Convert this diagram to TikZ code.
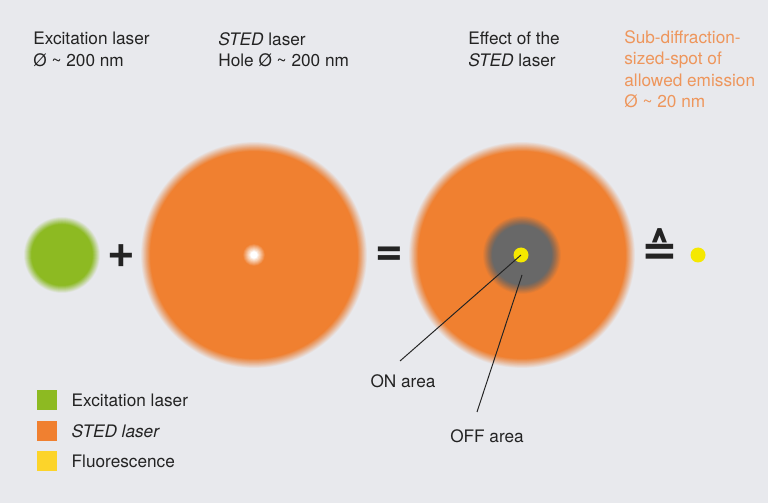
\documentclass[tikz,border=0pt]{standalone}
\usepackage{fontspec}
\setmainfont{TeX Gyre Heros}
\newfontfamily\symfont{DejaVu Sans}
\usetikzlibrary{positioning}

\definecolor{bggray}{RGB}{232,233,237}
\definecolor{excgreen}{RGB}{141,186,34}
\definecolor{stedorange}{RGB}{240,128,48}
\definecolor{offgray}{RGB}{104,104,104}
\definecolor{fluoyellow}{RGB}{245,232,0}
\definecolor{legyellow}{RGB}{252,212,42}
\definecolor{notetext}{RGB}{35,35,35}
\definecolor{noteorange}{RGB}{238,150,92}

% soft edged disc: centre, radius, half blur width, colour
\newcommand{\softdisc}[4]{%
  \foreach \k in {1,...,16}{%
    \pgfmathsetmacro\op{1/(17-\k)}%
    \pgfmathsetmacro\rr{#2+#3-2*#3*(\k-1)/16}%
    \fill[#4, fill opacity=\op] (#1) circle (\rr);
  }%
}

\begin{document}
\begin{tikzpicture}[x=0.02cm, y=-0.02cm,
    every node/.style={text=notetext, font=\fontsize{9.8}{12.2}\selectfont},
    heading/.style={anchor=north west, inner sep=0pt, align=left},
    sign/.style={inner sep=0pt, font=\fontsize{27}{27}\selectfont\bfseries},
    spot/.style={circle, fill=fluoyellow, minimum size=0.3cm, inner sep=0pt},
    legbox/.style={minimum size=0.4cm, inner sep=0pt},
    legtext/.style={anchor=west, inner sep=0pt, right=0.28cm of #1},
    pointer/.style={draw=notetext, line width=0.55pt}]
  \fill[bggray] (0,0) rectangle (768,503);
  \useasboundingbox (0,0) rectangle (768,503);

  % headings
  \node[heading] (hexc) at (33,32) {Excitation laser\\Ø \textasciitilde{} 200 nm};
  \node[heading] (hsted) at (218,32) {\textit{STED} laser\\Hole Ø \textasciitilde{} 200 nm};
  \node[heading] (heff) at (468,32) {Effect of the\\\textit{STED} laser};
  \node[heading, text=noteorange] (hspot) at (624,30) {Sub-diffraction-\\sized-spot of\\allowed emission\\Ø \textasciitilde{} 20 nm};

  % beams
  \coordinate (exc) at (62,255);
  \coordinate (sted) at (254,255);
  \coordinate (eff) at (522,255);
  \softdisc{exc}{34}{4}{excgreen}
  \softdisc{sted}{108}{5}{stedorange}
  \softdisc{sted}{7}{4}{white}
  \softdisc{eff}{108}{5}{stedorange}
  \softdisc{eff}{34}{5}{offgray}
  \node[spot] (fluo) at (521,255) {};
  \node[spot] (result) at (698,255) {};

  % operators
  \node[sign] (plus) at (121,256) {+};
  \node[sign] (equal) at (389,256) {=};
  \node[sign, font=\fontsize{25}{25}\selectfont\symfont\bfseries] (corr) at (660,247) {≙};

  % areas
  \node[inner sep=0pt] (onlbl) at (403,381) {ON area};
  \node[inner sep=0pt] (offlbl) at (487,436) {OFF area};
  \coordinate (onend) at (400,361);
  \coordinate (offstart) at (522,275);
  \coordinate (offend) at (477,412);
  \draw[pointer] (fluo.center) -- (onend);
  \draw[pointer] (offstart) -- (offend);

  % legend
  \node[legbox, fill=excgreen] (legexc) at (47,400) {};
  \node[legbox, fill=stedorange] (legsted) at (47,431) {};
  \node[legbox, fill=legyellow] (legfluo) at (47,461) {};
  \node[legtext=legexc] (txtexc) {Excitation laser};
  \node[legtext=legsted] (txtsted) {\textit{STED laser}};
  \node[legtext=legfluo] (txtfluo) {Fluorescence};
\end{tikzpicture}
\end{document}
